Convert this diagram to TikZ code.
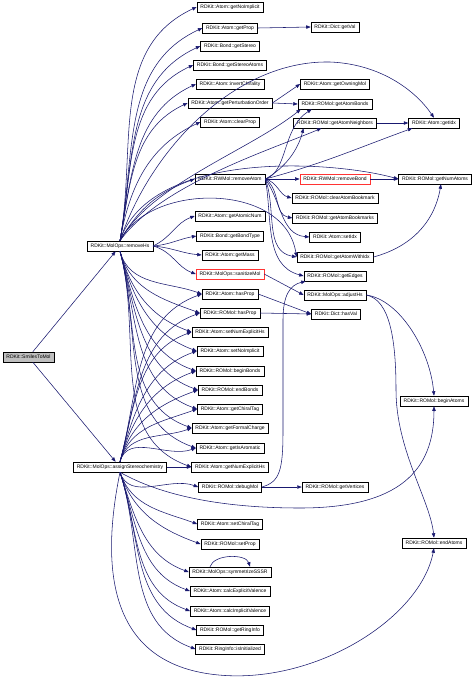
\documentclass[tikz,border=0pt]{standalone}
\usepackage{fontspec}
\setmainfont{Liberation Sans}
\usetikzlibrary{arrows.meta,calc}
\definecolor{eblue}{RGB}{25,25,112}
\definecolor{ngray}{RGB}{191,191,191}
\begin{document}
\begin{tikzpicture}[x=1pt,y=1pt,
  fn/.style={draw=black, line width=0.5pt, fill=white, rectangle, minimum height=10pt,
    inner xsep=3.5pt, inner ysep=1pt, font=\fontsize{5}{6}\selectfont},
  rfn/.style={fn, draw=red!80!white},
  gfn/.style={fn, fill=ngray},
  e/.style={draw=eblue, line width=0.55pt, -{Triangle[length=4.5pt,width=3.4pt]}},
]
\fill[white] (0,0) rectangle (474,-678);
\useasboundingbox (0,0) rectangle (474,-678);

% column 0 / 1
\node[gfn] (stm) at (28.5,-357) {RDKit::SmilesToMol};
\node[fn] (rh) at (120,-246) {RDKit::MolOps::removeHs};
\node[fn] (as) at (120,-467) {RDKit::MolOps::assignStereochemistry};

% column 2
\node[fn] (gni) at (230,-7) {RDKit::Atom::getNoImplicit};
\node[fn] (gp) at (230,-28) {RDKit::Atom::getProp};
\node[fn] (gs) at (230,-46) {RDKit::Bond::getStereo};
\node[fn] (gsa) at (230,-65) {RDKit::Bond::getStereoAtoms};
\node[fn] (ic) at (230,-84) {RDKit::Atom::invertChirality};
\node[fn] (gpo) at (230,-103) {RDKit::Atom::getPerturbationOrder};
\node[fn] (cp) at (230,-122) {RDKit::Atom::clearProp};
\node[fn] (ra) at (230,-179) {RDKit::RWMol::removeAtom};
\node[fn] (gan) at (230,-216) {RDKit::Atom::getAtomicNum};
\node[fn] (gbt) at (230,-236) {RDKit::Bond::getBondType};
\node[fn] (gm) at (230,-255) {RDKit::Atom::getMass};
\node[rfn] (sm) at (230,-274) {RDKit::MolOps::sanitizeMol};
\node[fn] (ahp) at (230,-294) {RDKit::Atom::hasProp};
\node[fn] (rhp) at (230,-313) {RDKit::ROMol::hasProp};
\node[fn] (sneh) at (230,-332) {RDKit::Atom::setNumExplicitHs};
\node[fn] (sni) at (230,-351) {RDKit::Atom::setNoImplicit};
\node[fn] (bb) at (230,-371) {RDKit::ROMol::beginBonds};
\node[fn] (eb) at (230,-390) {RDKit::ROMol::endBonds};
\node[fn] (gct) at (230,-409) {RDKit::Atom::getChiralTag};
\node[fn] (gfc) at (230,-428) {RDKit::Atom::getFormalCharge};
\node[fn] (gia) at (230,-448) {RDKit::Atom::getIsAromatic};
\node[fn] (gneh) at (230,-467) {RDKit::Atom::getNumExplicitHs};
\node[fn] (dm) at (230,-487) {RDKit::ROMol::debugMol};
\node[fn] (sct) at (230,-524) {RDKit::Atom::setChiralTag};
\node[fn] (sp) at (230,-544) {RDKit::ROMol::setProp};
\node[fn] (ss) at (230,-572) {RDKit::MolOps::symmetrizeSSSR};
\node[fn] (cev) at (230,-591) {RDKit::Atom::calcExplicitValence};
\node[fn] (civ) at (230,-611) {RDKit::Atom::calcImplicitValence};
\node[fn] (gri) at (230,-630) {RDKit::ROMol::getRingInfo};
\node[fn] (ii) at (230,-649) {RDKit::RingInfo::isInitialized};

% column 3
\node[fn] (gv) at (335,-27) {RDKit::Dict::getVal};
\node[fn] (gom) at (335,-84) {RDKit::Atom::getOwningMol};
\node[fn] (gab) at (335,-104) {RDKit::ROMol::getAtomBonds};
\node[fn] (ganb) at (335,-123) {RDKit::ROMol::getAtomNeighbors};
\node[rfn] (rb) at (335,-179) {RDKit::RWMol::removeBond};
\node[fn] (cab) at (335,-198) {RDKit::ROMol::clearAtomBookmark};
\node[fn] (gabm) at (335,-218) {RDKit::ROMol::getAtomBookmarks};
\node[fn] (si) at (335,-237) {RDKit::Atom::setIdx};
\node[fn] (gawi) at (335,-257) {RDKit::ROMol::getAtomWithIdx};
\node[fn] (ge) at (335,-276) {RDKit::ROMol::getEdges};
\node[fn] (ah) at (335,-295) {RDKit::MolOps::adjustHs};
\node[fn] (hv) at (336,-314) {RDKit::Dict::hasVal};
\node[fn] (gvt) at (335,-487) {RDKit::ROMol::getVertices};

% column 4
\node[fn] (gi) at (434,-123) {RDKit::Atom::getIdx};
\node[fn] (gna) at (435,-179) {RDKit::ROMol::getNumAtoms};
\node[fn] (ba) at (434,-401) {RDKit::ROMol::beginAtoms};
\node[fn] (ea) at (434,-543) {RDKit::ROMol::endAtoms};

% SmilesToMol
\draw[e] (stm) -- (rh);
\draw[e] (stm) -- (as);

% removeHs upward fan
\foreach \t in {gni,gp,gs,gsa,ic,gpo,cp}
  \draw[e] (rh.north) to[out=80,in=205] (\t.west);
\draw[e] (rh.north) to[out=60,in=200] (ra.west);
\draw[e] (rh.east) to[out=25,in=200] (gan.west);
\draw[e] (rh.east) to[out=5,in=190] (gbt.west);
\draw[e] (rh.east) to[out=-5,in=175] (gm.west);
\draw[e] (rh.east) to[out=-15,in=160] (sm.west);
% removeHs downward fan
\foreach \t in {ahp,rhp,sneh,sni,bb,eb,gct,gfc,gia,gneh}
  \draw[e] (rh.south) to[out=-75,in=160] (\t.west);
% removeHs long edges
\draw[e] (rh.north) .. controls (150,-150) and (235,-60) .. (330,-62)
  .. controls (380,-64) and (415,-90) .. (gi.north);
\draw[e] (rh.north) .. controls (150,-185) and (250,-150) .. ($(gab.south west)+(3,0)$);
\draw[e] (rh.north) .. controls (160,-185) and (270,-150) .. ($(ganb.south west)+(28,0)$);
\draw[e] (rh.north) .. controls (150,-150) and (330,-160) .. (gna.west);
\draw[e] (rh.north) .. controls (150,-182) and (285,-182) .. (gawi.west);

% assignStereochemistry upward fan
\foreach \t in {ahp,rhp,sneh,sni,bb,eb,gct,gfc,gia}
  \draw[e] (as.north) to[out=75,in=200] (\t.west);
\draw[e] (as.east) -- (gneh.west);
% downward fan
\foreach \t in {dm,sct,sp,ss,cev,civ,gri,ii}
  \draw[e] (as.south) to[out=-72,in=160] (\t.west);
% long edges
\draw[e] (as.south) .. controls (160,-495) and (220,-508) .. (300,-508)
  .. controls (400,-508) and (434,-470) .. (ba.south);
\draw[e] (as.south) .. controls (100,-570) and (110,-660) .. (210,-674)
  .. controls (310,-688) and (420,-620) .. (ea.south);

% removeAtom
\draw[e] (ra.east) .. controls (288,-172) and (282,-128) .. ($(gab.south west)+(14,0)$);
\draw[e] (ra.east) .. controls (285,-168) and (298,-150) .. ($(ganb.south west)+(10,0)$);
\draw[e] (ra.east) to[out=15,in=200] ($(gi.south west)+(4,0)$);
\draw[e] (ra.east) -- (rb.west);
\draw[e] (ra.east) to[out=-15,in=165] (cab.west);
\draw[e] (ra.east) to[out=-35,in=170] (gabm.west);
\draw[e] (ra.east) to[out=-55,in=175] (si.west);
\draw[e] (ra.east) to[out=-70,in=170] (gawi.west);
\draw[e] (ra.east) to[out=-80,in=165] (ge.west);

% others
\draw[e] (gp.east) -- (gv.west);
\draw[e] (gpo.east) -- (gom.west);
\draw[e] (gpo.east) -- (gab.west);
\draw[e] (ganb.east) -- (gi.west);
\draw[e] (rb.east) -- (gna.west);
\draw[e] (gawi.east) to[out=15,in=-100] ($(gna.south)+(6,0)$);
\draw[e] (ahp.east) -- (hv.west);
\draw[e] (rhp.east) -- (hv.west);
\draw[e] (sm.east) -- (ah.west);
\draw[e] (ah.east) .. controls (400,-300) and (430,-350) .. (ba.north);
\draw[e] (ah.east) .. controls (390,-300) and (396,-340) .. (396,-390)
  .. controls (396,-450) and (430,-500) .. (ea.north);
\draw[e] (dm.east) -- (gvt.west);
\draw[e] (dm.east) .. controls (280,-482) and (283,-470) .. (283,-430)
  -- (283,-320) .. controls (283,-295) and (290,-285) .. ($(ge.south west)+(2,0)$);
\draw[e] ($(ss.north)+(-20,0)$) .. controls +(4,13) and +(-4,13) .. ($(ss.north)+(20,0)$);
\end{tikzpicture}
\end{document}
